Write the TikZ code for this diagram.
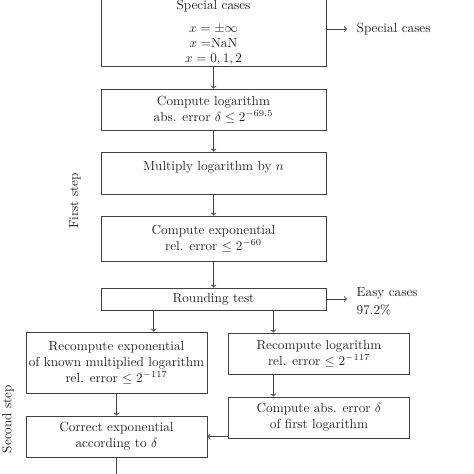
\documentclass[tikz,border=0pt]{standalone}
\usepackage{amsmath}
\usepackage{amssymb}
\usepackage{tikz}

\begin{document}
\begin{tikzpicture}[x=0.757pt,y=-0.757pt,
        stepbox/.style={draw=black!75,line width=0.65pt,align=center,inner sep=0pt,text=black!85},
        wide/.style={minimum width=170.3pt},
        narrow/.style={minimum width=137pt},
        flow/.style={->,draw=black!75,line width=0.65pt},
        outlabel/.style={align=left,anchor=west,text=black!85}]
    \useasboundingbox (0,0) rectangle (474,474);
    \clip (0,0) rectangle (474,474);
    % first step
    \node[stepbox,wide,minimum height=50.7pt] (special) at (213.5,32.5)
        {Special cases\\[5.4pt]$x=\pm\infty$\\[-0.6pt]$x=$NaN\\[-0.6pt]$x=0,1,2$};
    \node[stepbox,wide,minimum height=31pt] (log) at (213.5,109.5)
        {Compute logarithm\\abs. error $\delta\leq 2^{-69.5}$};
    \node[stepbox,wide,minimum height=31.8pt] (mult) at (213.5,173)
        {Multiply logarithm by $n$\\[-2pt]\mbox{}};
    \node[stepbox,wide,minimum height=34.1pt] (exp) at (213.5,238.5)
        {Compute exponential\\rel. error $\leq 2^{-60}$};
    \node[stepbox,wide,minimum height=16.7pt] (round) at (213.5,299)
        {Rounding test};
    \node[outlabel] (speciallabel) at (352,29) {Special cases};
    \node[outlabel] (easylabel) at (352,301) {Easy cases\\[1.6pt]97.2\%};
    % second step
    \node[stepbox,narrow,minimum height=46.2pt] (reexp) at (116.5,362.5)
        {Recompute exponential\\of known multiplied logarithm\\rel. error $\leq 2^{-117}$};
    \node[stepbox,narrow,minimum height=31pt] (relog) at (319,353.5)
        {Recompute logarithm\\rel. error $\leq 2^{-117}$};
    \node[stepbox,narrow,minimum height=31pt] (abserr) at (319,417.5)
        {Compute abs. error $\delta$\\of first logarithm};
    \node[stepbox,narrow,minimum height=31pt] (correct) at (116.5,436.5)
        {Correct exponential\\according to $\delta$};
    \coordinate (out) at (116.5,480);
    % side labels
    \node[rotate=90,text=black!85] (first) at (75,201) {First step};
    \node[rotate=90,text=black!85] (second) at (8,419) {Second step};
    % arrows
    \draw[flow] (special) -- (log);
    \draw[flow] (log) -- (mult);
    \draw[flow] (mult) -- (exp);
    \draw[flow] (exp) -- (round);
    \draw[flow,shorten >=3.8pt] (special.east |- speciallabel) -- (speciallabel.west);
    \draw[flow,shorten >=3.8pt] (round.east) -- (round.east -| easylabel.west);
    \draw[flow] ([xshift=-45.4pt]round.south) -- ([xshift=-45.4pt]round.south |- reexp.north);
    \draw[flow] ([xshift=45.4pt]round.south) -- ([xshift=45.4pt]round.south |- relog.north);
    \draw[flow] ([xshift=45.4pt]round.south |- relog.south) -- ([xshift=45.4pt]round.south |- abserr.north);
    \draw[flow] (reexp) -- (correct);
    \draw[flow] (abserr.west |- correct.east) -- (correct.east);
    \draw[flow] (correct) -- (out);
\end{tikzpicture}
\end{document}
